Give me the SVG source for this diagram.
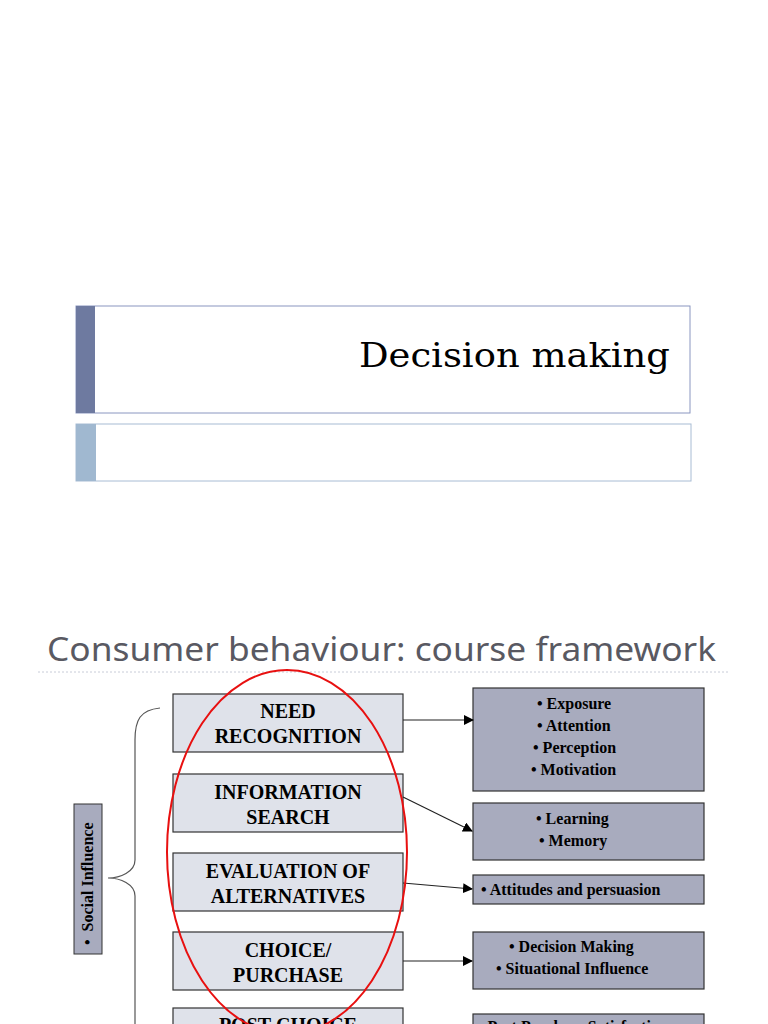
<svg xmlns="http://www.w3.org/2000/svg" width="768" height="1024" viewBox="0 0 768 1024">
<style>
.step{fill:#dfe2ea;stroke:#333;stroke-width:1.2}
.det{fill:#a8abbe;stroke:#333;stroke-width:1.2}
.st{font-family:"Liberation Serif",serif;font-weight:bold;font-size:20px;text-anchor:middle;fill:#000}
.dt{font-family:"Liberation Serif",serif;font-weight:bold;font-size:16px;fill:#000}
.c{stroke:#222;stroke-width:1.2;fill:none;marker-end:url(#a)}
</style>
<defs><marker id="a" markerWidth="10" markerHeight="10" refX="9" refY="5" orient="auto" markerUnits="userSpaceOnUse"><path d="M0,0L10,5L0,10z" fill="#000"/></marker></defs>
<rect width="768" height="1024" fill="#fff"/>
<g id="title1">
<rect x="76" y="306" width="614" height="107" fill="#fff" stroke="#8a96c0"/>
<rect x="76" y="306" width="19" height="107" fill="#6e7aa0"/>
<text x="359" y="367" textLength="311" lengthAdjust="spacingAndGlyphs" font-family="DejaVu Serif,serif" font-size="34" fill="#000">Decision making</text>
</g>
<g id="title2">
<rect x="76" y="424" width="615" height="57" fill="#fff" stroke="#a8bcd4"/>
<rect x="76" y="424" width="20" height="57" fill="#a0b8d0"/>
</g>
<text x="47" y="661" textLength="669" lengthAdjust="spacingAndGlyphs" font-family="Noto Sans,sans-serif" font-size="32" fill="#595962">Consumer behaviour: course framework</text>
<line x1="38" y1="672" x2="730" y2="672" stroke="#c8ccd8" stroke-dasharray="2,2"/>
<g id="social">
<rect x="74" y="804" width="28" height="150" fill="#a8abbe" stroke="#333"/>
<text transform="translate(93,945) rotate(-90)" class="dt" xml:space="preserve">•  Social Influence</text>
</g>
<path d="M160,708 C140,710 135,720 135,740 L135,860 C135,872 120,878 108,878 C120,878 135,884 135,896 L135,1024" fill="none" stroke="#555" stroke-width="1.2"/>
<g id="s1"><rect class="step" x="173" y="694" width="230" height="58"/><text class="st" x="288" y="718">NEED</text><text class="st" x="288" y="743">RECOGNITION</text></g>
<g id="s2"><rect class="step" x="173" y="774" width="230" height="58"/><text class="st" x="288" y="799">INFORMATION</text><text class="st" x="288" y="824">SEARCH</text></g>
<g id="s3"><rect class="step" x="173" y="853" width="230" height="58"/><text class="st" x="288" y="878">EVALUATION OF</text><text class="st" x="288" y="903">ALTERNATIVES</text></g>
<g id="s4"><rect class="step" x="173" y="932" width="230" height="58"/><text class="st" x="288" y="957">CHOICE/</text><text class="st" x="288" y="982">PURCHASE</text></g>
<g id="s5"><rect class="step" x="173" y="1008" width="230" height="58"/><text class="st" x="288" y="1032">POST-CHOICE</text></g>
<g id="d1" xml:space="preserve"><rect class="det" x="473" y="688" width="231" height="103"/>
<text class="dt" x="537" y="709">•   Exposure</text><text class="dt" x="537" y="731">•   Attention</text><text class="dt" x="533" y="753">•  Perception</text><text class="dt" x="531" y="775">•  Motivation</text></g>
<g id="d2" xml:space="preserve"><rect class="det" x="473" y="803" width="231" height="57"/><text class="dt" x="536" y="824">•  Learning</text><text class="dt" x="539" y="846">•   Memory</text></g>
<g id="d3" xml:space="preserve"><rect class="det" x="473" y="875" width="231" height="29"/><text class="dt" x="481" y="895">•  Attitudes and persuasion</text></g>
<g id="d4" xml:space="preserve"><rect class="det" x="473" y="932" width="231" height="57"/><text class="dt" x="509" y="952">•  Decision Making</text><text class="dt" x="496" y="974">•  Situational Influence</text></g>
<g id="d5" xml:space="preserve"><rect class="det" x="473" y="1014" width="231" height="40"/><text class="dt" x="478" y="1032">•  Post Purchase Satisfaction</text></g>
<g id="connectors">
<line class="c" x1="403" y1="720" x2="473" y2="720"/>
<line class="c" x1="403" y1="797" x2="472" y2="831"/>
<line class="c" x1="403" y1="883" x2="472" y2="889"/>
<line class="c" x1="403" y1="961" x2="472" y2="961"/>
</g>
<ellipse cx="287" cy="852" rx="120" ry="182" fill="none" stroke="#e81010" stroke-width="2"/>
</svg>
